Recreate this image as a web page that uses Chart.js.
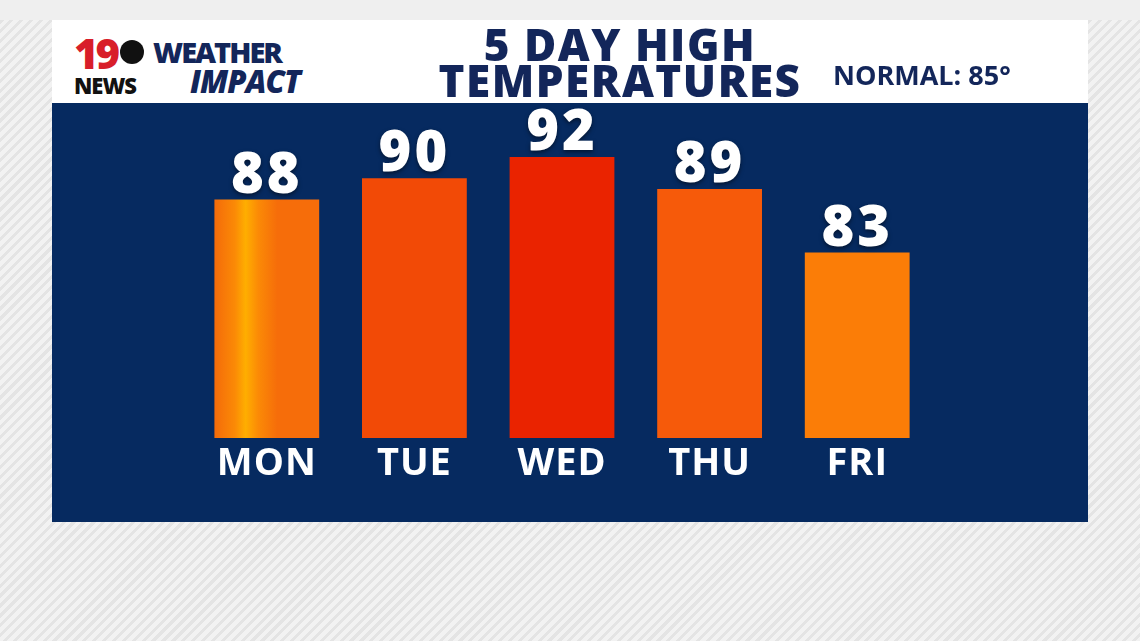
<!DOCTYPE html>
<html><head><meta charset="utf-8">
<script src="https://cdn.jsdelivr.net/npm/chart.js@4"></script>
<style>
body{margin:0;width:1140px;height:641px;overflow:hidden;font-family:"Liberation Sans",Arial,sans-serif;
background:repeating-linear-gradient(135deg,#e4e4e4 0 3px,#f2f2f2 3px 7px);}
#top{position:absolute;left:0;top:0;width:1140px;height:20px;background:#efefef}
#hdr{position:absolute;left:52px;top:20px;width:1036px;height:83px;background:#fff}
#panel{position:absolute;left:52px;top:103px;width:1036px;height:419px;background:#062a60}
#title{position:absolute;left:400px;top:26px;width:440px;text-align:center;color:#13265a;font-weight:900;font-size:44px;line-height:36px;font-family:"Open Sans",sans-serif;letter-spacing:1.5px}
#normal{position:absolute;left:833px;top:56px;color:#13265a;font-weight:700;font-size:27px;font-family:"Open Sans",sans-serif}
.l{position:absolute;font-weight:900;font-family:"Open Sans",sans-serif}
</style></head><body>
<div id="top"></div><div id="hdr"></div><div id="panel"><canvas id="c" width="1036" height="419"></canvas></div>
<div id="title">5 DAY HIGH<br>TEMPERATURES</div>
<div id="normal">NORMAL: 85°</div>
<div class="l" style="left:74px;top:24px;color:#d81e2a;font-size:42px;letter-spacing:-3px">19</div>
<div class="l" style="left:120px;top:40px;width:24px;height:24px;border-radius:50%;background:#111"></div>
<div class="l" style="left:74px;top:70px;color:#111;font-size:22px;letter-spacing:-1px">NEWS</div>
<div class="l" style="left:153px;top:32px;color:#13265a;font-size:29px;letter-spacing:-2px">WEATHER</div>
<div class="l" style="left:190px;top:60px;color:#13265a;font-size:31px;font-style:italic;letter-spacing:-1px">IMPACT</div>
<script>
const days=["MON","TUE","WED","THU","FRI"];
const highs=[88,90,92,89,83];
const colors=["#f66d0a","#f24a06","#ea2300","#f65a0a","#fb7d07"];
const labelPlugin={id:"lbl",afterDatasetsDraw(ch){
 const g=ch.ctx,x=ch.scales.x,y=ch.scales.y;
 g.save();g.textAlign="center";g.fillStyle="#fff";
 highs.forEach((v,i)=>{const px=x.getPixelForValue(i),py=y.getPixelForValue(v);
  g.shadowColor="rgba(0,0,0,0.5)";g.shadowBlur=4;g.shadowOffsetY=2;
  g.font="900 56px 'Open Sans'";g.letterSpacing="3px";g.textBaseline="alphabetic";g.fillText(v,px,py-7);
  g.font="700 38px 'Open Sans'";g.letterSpacing="1px";g.textBaseline="middle";g.shadowBlur=0;g.shadowOffsetY=0;
  g.fillText(days[i],px,ch.chartArea.bottom+26);});
 g.restore();}};
new Chart(document.getElementById("c"),{type:"bar",
 data:{labels:days,datasets:[{data:highs,
  backgroundColor:(c)=>{if(c.dataIndex!==0||!c.chart.chartArea)return colors[c.dataIndex];
   const x=c.chart.scales.x.getPixelForValue(0);const g=c.chart.ctx.createLinearGradient(x-53,0,x+53,0);
   g.addColorStop(0,"#f46a0a");g.addColorStop(0.2,"#fb8a06");g.addColorStop(0.3,"#ffae00");g.addColorStop(0.42,"#fb8a06");g.addColorStop(0.6,"#f66d0a");g.addColorStop(1,"#f66d0a");return g;},
  barPercentage:0.71,categoryPercentage:1,borderSkipped:false}]},
 options:{responsive:false,animation:false,events:[],
  layout:{padding:{left:141,right:157,top:17,bottom:84}},
  plugins:{legend:{display:false},tooltip:{enabled:false}},
  scales:{x:{display:false},y:{display:false,min:65.5,max:95.5}}},
 plugins:[labelPlugin]});
</script></body></html>
